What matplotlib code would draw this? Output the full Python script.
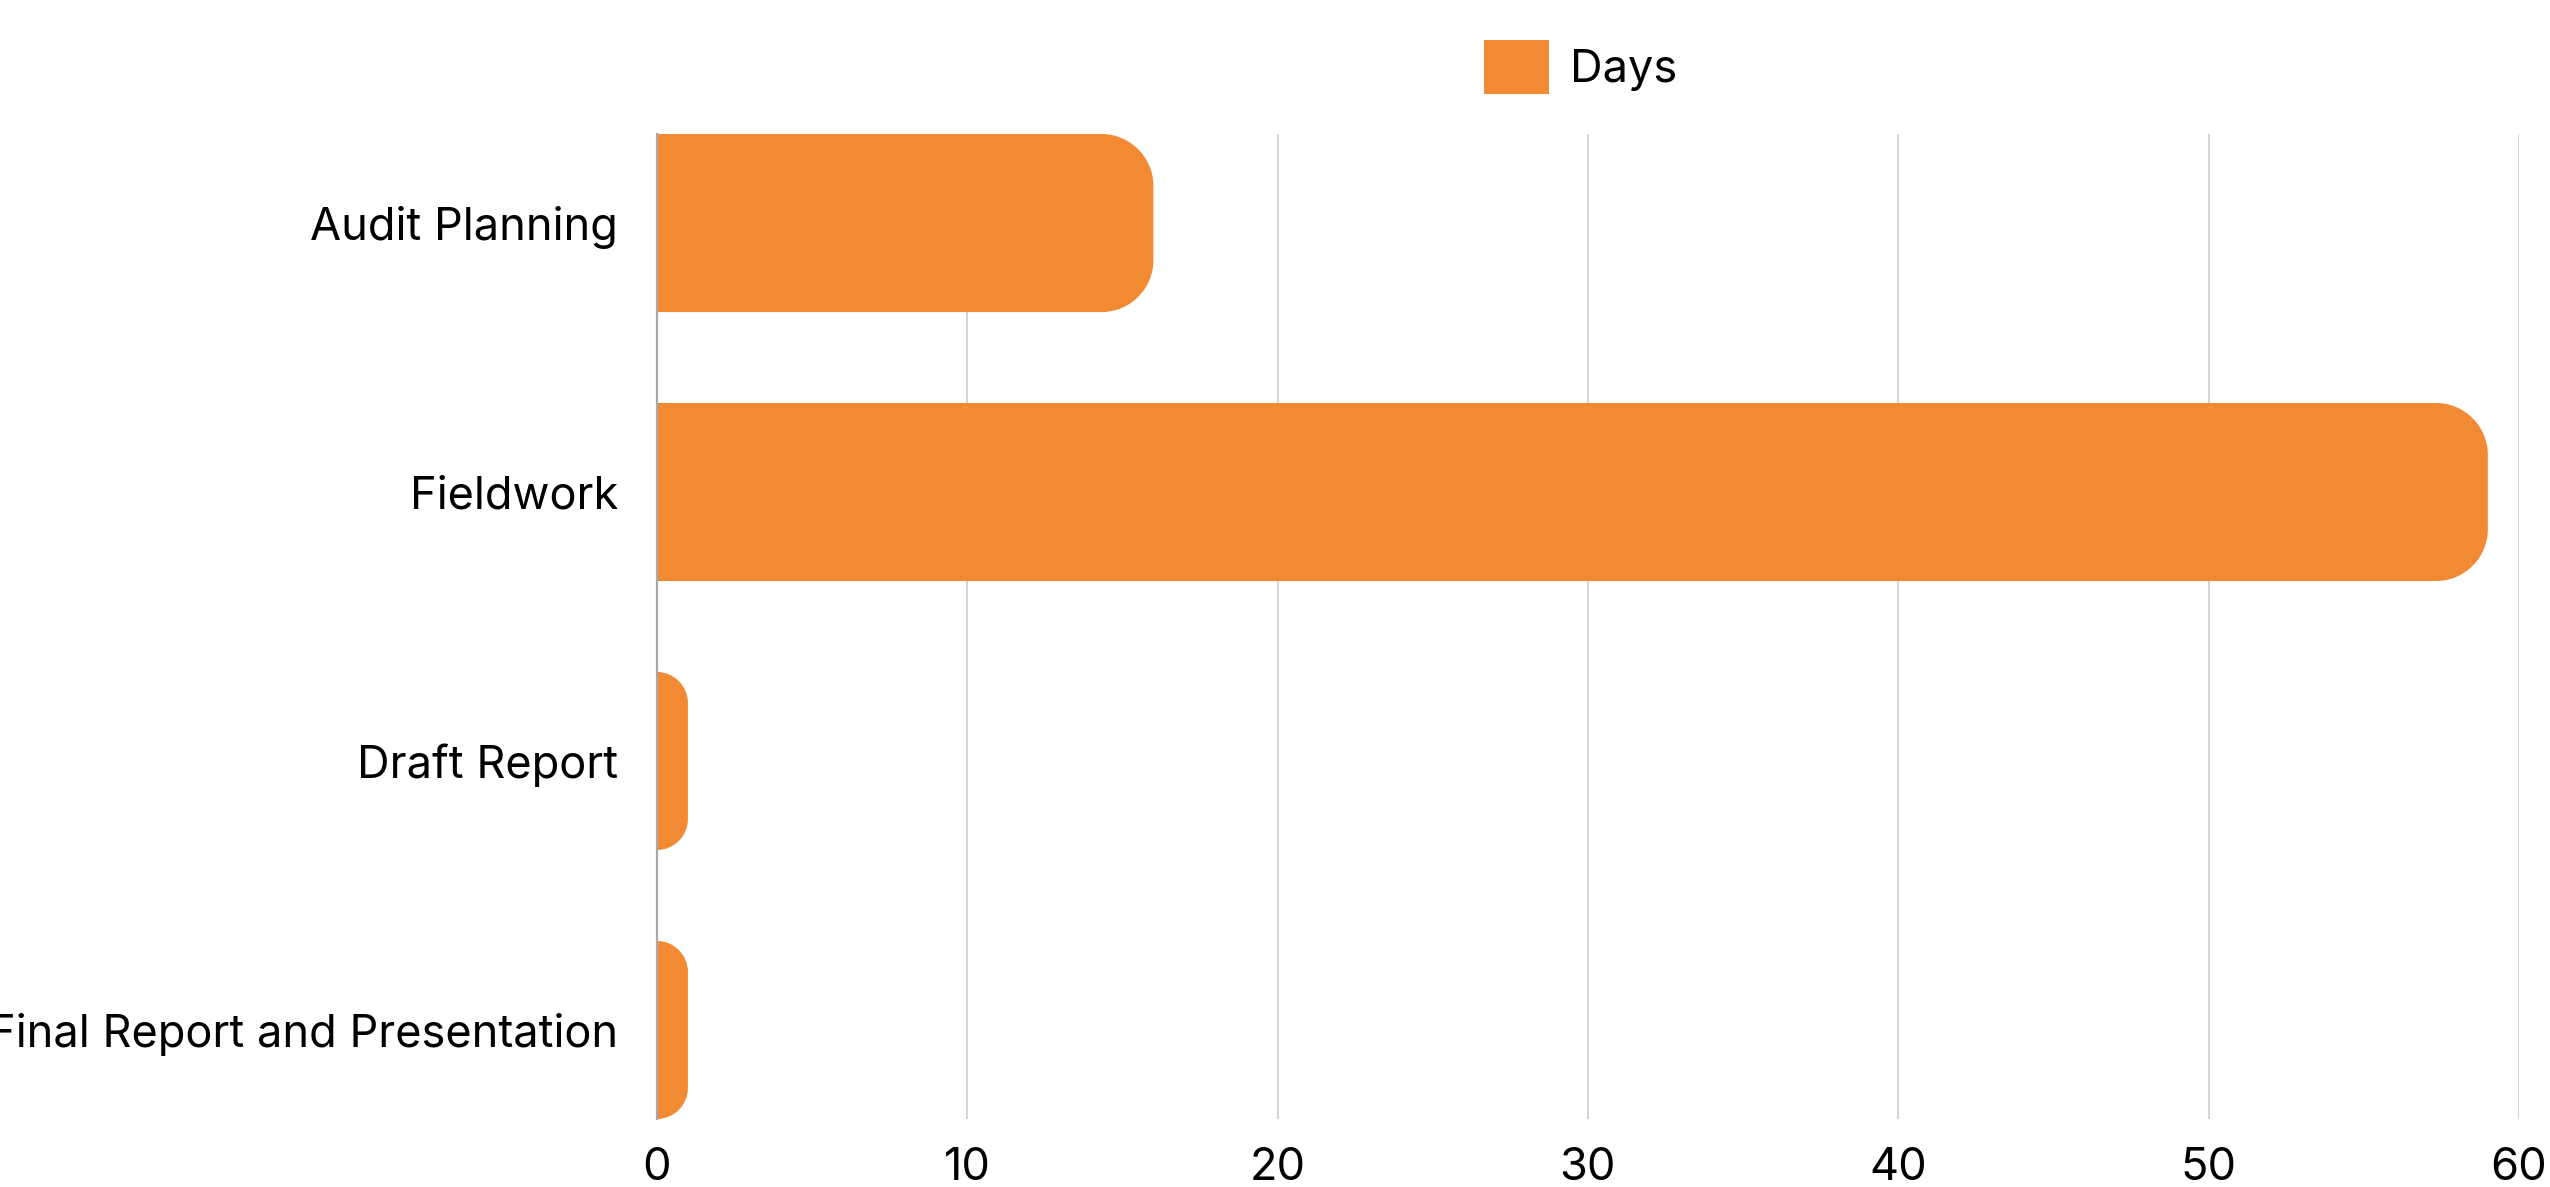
import matplotlib
matplotlib.use("Agg")
import matplotlib.pyplot as plt
from matplotlib.path import Path
from matplotlib.patches import PathPatch, Patch

# data
phases = ["Audit Planning", "Fieldwork", "Draft Report", "Final Report and Presentation"]
days = [16, 59, 1, 1]
x_ticks = [0, 10, 20, 30, 40, 50, 60]

bar_color = "#F18A33"
grid_color = "#d0d0d0"
font = "Inter"
fsize = 32.5

plt.rcParams["font.family"] = [font, "DejaVu Sans"]

fig = plt.figure(figsize=(25.5, 11.87), dpi=100)
ax = fig.add_axes([0.2576, 0.0573, 0.9878 - 0.2576, 0.8871 - 0.0573])

bar_h = 0.662
ax.set_xlim(0, 60)
ax.set_ylim(len(phases) - 1 + bar_h / 2, -bar_h / 2)


def rounded_bar(ax, yc, value, height, radius_px=52):
    # bar with only the right-hand corners rounded
    p0 = ax.transData.transform((0, 0))
    px = ax.transData.transform((1, 1)) - p0
    pxx, pxy = abs(px[0]), abs(px[1])
    r = min(radius_px, value * pxx, height * pxy / 2)
    rx, ry = r / pxx, r / pxy
    k = 0.5523
    yb, yt = yc - height / 2, yc + height / 2
    verts = [
        (0, yb), (value - rx, yb),
        (value - rx + k * rx, yb), (value, yb + ry - k * ry), (value, yb + ry),
        (value, yt - ry),
        (value, yt - ry + k * ry), (value - rx + k * rx, yt), (value - rx, yt),
        (0, yt), (0, yb),
    ]
    codes = [Path.MOVETO, Path.LINETO,
             Path.CURVE4, Path.CURVE4, Path.CURVE4,
             Path.LINETO,
             Path.CURVE4, Path.CURVE4, Path.CURVE4,
             Path.LINETO, Path.CLOSEPOLY]
    patch = PathPatch(Path(verts, codes), facecolor=bar_color, edgecolor="none", zorder=3)
    ax.add_patch(patch)


for i, v in enumerate(days):
    rounded_bar(ax, i, v, bar_h)

ax.set_yticks(range(len(phases)))
ax.set_yticklabels(phases)
ax.set_xticks(x_ticks)
ax.tick_params(axis="both", length=0, labelsize=fsize, colors="black")
ax.tick_params(axis="y", pad=28)
ax.tick_params(axis="x", pad=20)

ax.grid(axis="x", color=grid_color, linewidth=1.3, zorder=0)
ax.set_axisbelow(True)
for side in ["top", "right", "bottom"]:
    ax.spines[side].set_visible(False)
ax.spines["left"].set_color("#a8a8a8")
ax.spines["left"].set_linewidth(1.6)
ax.spines["left"].set_zorder(4)

handle = Patch(facecolor=bar_color, edgecolor="none", label="Days")
fig.legend(handles=[handle], loc="center", bbox_to_anchor=(0.620, 0.9436),
           frameon=False, fontsize=fsize, handlelength=1.44, handleheight=1.44,
           handletextpad=0.46, borderpad=0)

fig.savefig("out.png", dpi=100, facecolor="white")
